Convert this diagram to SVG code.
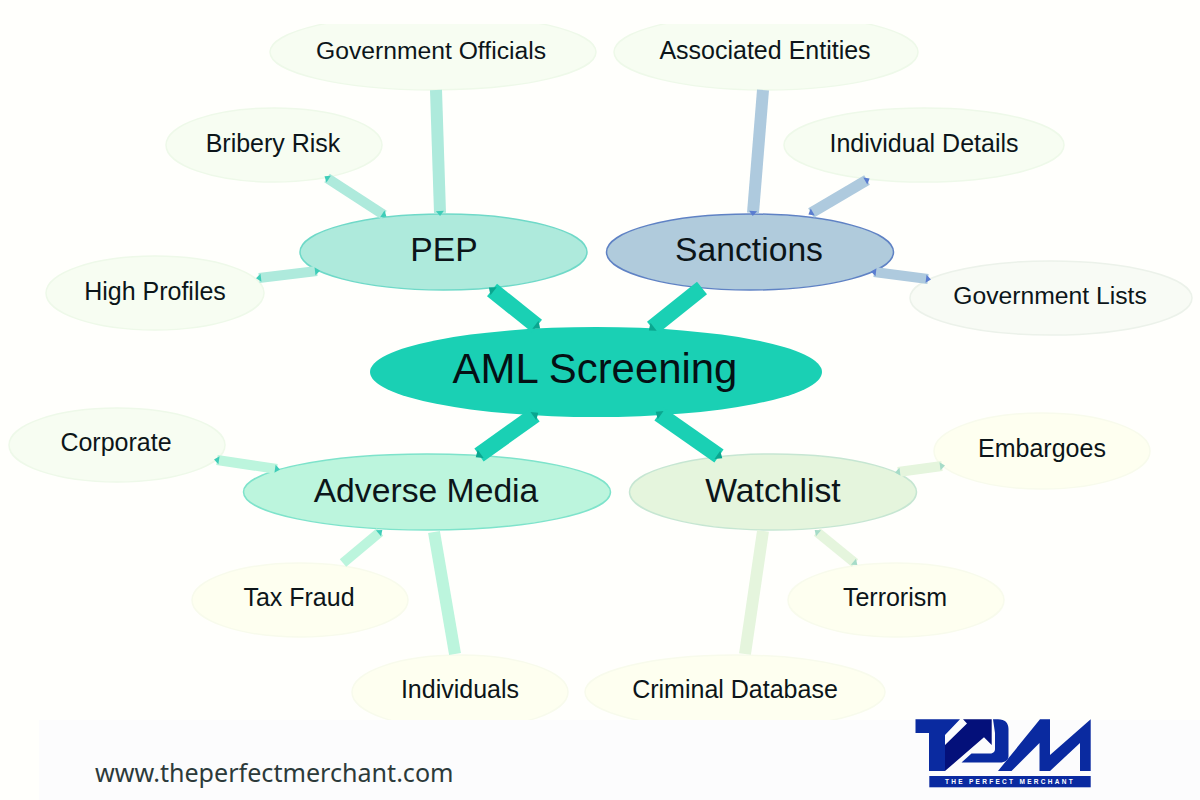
<svg xmlns="http://www.w3.org/2000/svg" width="1200" height="800" viewBox="0 0 1200 800">
<style>
text{font-family:"Liberation Sans",Arial,sans-serif;fill:#0c1519;text-anchor:middle}
.leaf{font-size:25px}.mid{font-size:33.7px}.root{font-size:41.9px;fill:#051014}
.url{font-family:"Noto Sans",sans-serif;font-size:25.1px;fill:#2c3a3a;text-anchor:start}
.tag{font-size:6.5px;font-weight:700;fill:#fff;letter-spacing:2.3px}
.lg{fill:#0a2aa0}.ld{fill:#04107a}
.c{fill:none;stroke-linecap:butt}
.lf{fill:#f7fdf2;stroke:#eef9e9;stroke-width:1.5}
.ly{fill:#fefff0;stroke:#f8fbec;stroke-width:1.5}
.lb{fill:#f8fbf5;stroke:#ecf2ea;stroke-width:1.5}
</style>
<defs>
<marker id="mr" markerUnits="userSpaceOnUse" markerWidth="14" markerHeight="16" refX="2" refY="8" orient="auto-start-reverse" overflow="visible"><path d="M0 3L6 8L0 13Z" fill="#0aa68f"/></marker>
<marker id="mt" markerUnits="userSpaceOnUse" markerWidth="12" markerHeight="12" refX="2" refY="5" orient="auto-start-reverse" overflow="visible"><path d="M0 1L5 5L0 9Z" fill="#3fcdb8"/></marker>
<marker id="mn" markerUnits="userSpaceOnUse" markerWidth="12" markerHeight="12" refX="2" refY="5" orient="auto-start-reverse" overflow="visible"><path d="M0 1L5 5L0 9Z" fill="#5a7dd0"/></marker>
<marker id="mg" markerUnits="userSpaceOnUse" markerWidth="12" markerHeight="12" refX="2" refY="5" orient="auto-start-reverse" overflow="visible"><path d="M0 1L5 5L0 9Z" fill="#a6dcc8"/></marker>
</defs>
<rect width="1200" height="800" fill="#fffffc"/>
<g id="n-root"><ellipse cx="596" cy="372" rx="226" ry="45" fill="#1ad0b4"/><text class="root" x="595" y="383">AML Screening</text></g>
<g id="n-pep"><ellipse cx="443.500" cy="252" rx="143.500" ry="38" fill="#aeeadc" stroke="#6fd9c8" stroke-width="1.500"/><text class="mid" x="444" y="261">PEP</text></g>
<g id="n-sanctions"><ellipse cx="750" cy="252" rx="143.500" ry="38" fill="#b0cbdc" stroke="#5f82c4" stroke-width="1.500"/><text class="mid" x="749" y="261">Sanctions</text></g>
<g id="n-adverse"><ellipse cx="427" cy="492" rx="183.500" ry="38" fill="#bcf5dd" stroke="#7ee3cb" stroke-width="1.500"/><text class="mid" x="426" y="502">Adverse Media</text></g>
<g id="n-watchlist"><ellipse cx="773" cy="492" rx="143.500" ry="38" fill="#e5f5dd" stroke="#c6e6d2" stroke-width="1.500"/><text class="mid" x="773" y="502">Watchlist</text></g>
<g id="n-govoff"><ellipse class="lf" cx="433" cy="52" rx="163" ry="38"/><text class="leaf" style="font-size:24.7px" x="431" y="59">Government Officials</text></g>
<g id="n-assoc"><ellipse class="lf" cx="766" cy="52" rx="152" ry="38"/><text class="leaf" x="765" y="59">Associated Entities</text></g>
<g id="n-bribery"><ellipse class="lf" cx="274" cy="145" rx="108" ry="37"/><text class="leaf" x="273" y="152">Bribery Risk</text></g>
<g id="n-inddet"><ellipse class="lf" cx="924" cy="145" rx="140" ry="37"/><text class="leaf" x="924" y="152">Individual Details</text></g>
<g id="n-high"><ellipse class="lf" cx="155" cy="293" rx="109" ry="37"/><text class="leaf" x="155" y="300">High Profiles</text></g>
<g id="n-govlists"><ellipse class="lb" cx="1051" cy="298" rx="141" ry="37"/><text class="leaf" style="font-size:24.7px" x="1050" y="304">Government Lists</text></g>
<g id="n-corp"><ellipse class="lf" cx="117" cy="445" rx="108" ry="37"/><text class="leaf" x="116" y="451">Corporate</text></g>
<g id="n-embargo"><ellipse class="ly" cx="1042" cy="451" rx="108" ry="38"/><text class="leaf" x="1042" y="457">Embargoes</text></g>
<g id="n-tax"><ellipse class="ly" cx="300" cy="600" rx="108" ry="37"/><text class="leaf" x="299" y="606">Tax Fraud</text></g>
<g id="n-terror"><ellipse class="ly" cx="896" cy="600" rx="108" ry="37"/><text class="leaf" x="895" y="606">Terrorism</text></g>
<g id="n-indiv"><ellipse class="ly" cx="460" cy="692" rx="108" ry="37"/><text class="leaf" x="460" y="698">Individuals</text></g>
<g id="n-criminal"><ellipse class="ly" cx="735" cy="692" rx="150" ry="37"/><text class="leaf" x="735" y="698">Criminal Database</text></g>
<g id="connectors">
<g class="c" stroke="#1ad0b4" stroke-width="16">
<line x1="492" y1="290" x2="537" y2="326" marker-start="url(#mr)" marker-end="url(#mr)"/>
<line x1="702" y1="288" x2="652" y2="328" marker-end="url(#mr)"/>
<line x1="535" y1="415" x2="479" y2="455" marker-start="url(#mr)" marker-end="url(#mr)"/>
<line x1="659" y1="414" x2="719" y2="456" marker-start="url(#mr)" marker-end="url(#mr)"/>
</g>
<g class="c" stroke="#aeeadc">
<line x1="436" y1="90" x2="440" y2="213" stroke-width="12" marker-end="url(#mt)"/>
<line x1="327" y1="178" x2="384" y2="215" stroke-width="10" marker-start="url(#mt)" marker-end="url(#mt)"/>
<line x1="259" y1="278" x2="317" y2="271" stroke-width="10" marker-start="url(#mt)" marker-end="url(#mt)"/>
</g>
<g class="c" stroke="#aecade">
<line x1="763" y1="90" x2="753" y2="213" stroke-width="12" marker-end="url(#mn)"/>
<line x1="867" y1="180" x2="811" y2="213" stroke-width="11" marker-start="url(#mn)" marker-end="url(#mn)"/>
<line x1="928" y1="279" x2="874" y2="272" stroke-width="10" marker-start="url(#mn)" marker-end="url(#mn)"/>
</g>
<g class="c" stroke="#bcf5dd">
<line x1="217" y1="460" x2="277" y2="469" stroke-width="10" marker-start="url(#mt)" marker-end="url(#mt)"/>
<line x1="343" y1="563" x2="380" y2="532" stroke-width="10" marker-end="url(#mt)"/>
<line x1="455" y1="654" x2="434" y2="532" stroke-width="12"/>
</g>
<g class="c" stroke="#e5f5dd">
<line x1="942" y1="466" x2="898" y2="472" stroke-width="10" marker-start="url(#mg)" marker-end="url(#mg)"/>
<line x1="855" y1="563" x2="817" y2="532" stroke-width="10" marker-start="url(#mg)" marker-end="url(#mg)"/>
<line x1="745" y1="654" x2="763" y2="531" stroke-width="12"/>
</g>
</g>
<rect x="0" y="0" width="1200" height="24" fill="#fffffc"/>
<rect x="0" y="720" width="1200" height="80" fill="#fffffc"/>
<rect x="39" y="720" width="1161" height="80" fill="#fcfcfd"/>
<text class="url" x="95" y="782">www.theperfectmerchant.com</text>
<g id="logo">
<path class="lg" d="M915.500 719.300H960L945 735V771H929V733H915.500Z"/>
<path class="lg" d="M993 719.300H998C1005 719.300 1008.500 723 1008.500 729V756C1008.500 760 1005 762.500 1000 762.500H961.500L971.500 753.500H990C994 753.500 995 751 995 749V733Z"/>
<path class="ld" d="M945 745L967 723.500L963 719.300H991.700V745L984 737.300L945 771Z"/>
<path class="lg" d="M998 771L1040 719.300H1050V755L1090.700 719.300V771H1080V743L1050 771H1039.500V743L1011.500 771Z"/>
<rect class="lg" x="929.300" y="776" width="161.400" height="11.300"/>
<text class="tag" x="1010" y="784">THE PERFECT MERCHANT</text>
</g>
</svg>
